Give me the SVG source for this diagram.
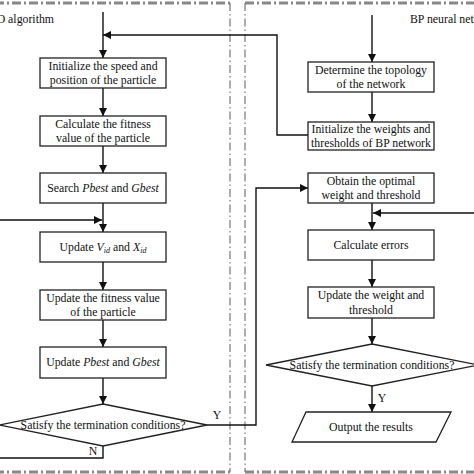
<svg xmlns="http://www.w3.org/2000/svg" width="474" height="474" viewBox="0 0 474 474">
<defs>
<marker id="ah" viewBox="0 0 10 10" refX="10" refY="5" markerWidth="8" markerHeight="8" markerUnits="userSpaceOnUse" orient="auto"><path d="M0,0 L10,5 L0,10 z" fill="#111"/></marker>
<style>
.box{fill:#fff;stroke:#222;stroke-width:1.3}
.t{font-family:"Liberation Serif","Times New Roman",serif;font-size:11.8px;fill:#111;text-anchor:middle}
.c{fill:none;stroke:#111;stroke-width:1.4}
.a{marker-end:url(#ah)}
.pt{fill:none;stroke:#888;stroke-width:3;stroke-dasharray:9 3 2 3}
.pv{fill:none;stroke:#777;stroke-width:1.2;stroke-dasharray:8 3 1.5 3}
</style>
</defs>
<rect width="474" height="474" fill="#fff"/>
<g id="panels">
<path class="pt" d="M-5,3 H230"/>
<path class="pt" d="M245,3 H480"/>
<path class="pt" d="M-5,472 H230"/>
<path class="pt" d="M245,472 H480"/>
<path class="pv" d="M230,3 V472"/>
<path class="pv" d="M245,3 V472"/>
<text class="t" x="54" y="23" style="text-anchor:end">PSO algorithm</text>
<text class="t" x="410" y="23" style="text-anchor:start">BP neural network</text>
</g>
<g id="connectors">
<path class="c a" d="M103,12 V58"/>
<path class="c a" d="M308,135 H277 V35 H103"/>
<path class="c a" d="M103,88 V116"/>
<path class="c a" d="M103,146 V173"/>
<path class="c a" d="M103,203 V232"/>
<path class="c a" d="M-5,220 H102"/>
<path class="c a" d="M103,262 V290"/>
<path class="c a" d="M103,320 V347"/>
<path class="c a" d="M103,378 V404"/>
<path class="c" d="M103,446 V458 H-5"/>
<path class="c a" d="M207,425 H256 V188 H308"/>
<path class="c a" d="M372,15 V62"/>
<path class="c a" d="M372,92 V122"/>
<path class="c a" d="M372,203 V230"/>
<path class="c a" d="M480,213 H373"/>
<path class="c a" d="M372,260 V287"/>
<path class="c a" d="M372,318 V344"/>
<path class="c a" d="M372,386 V412"/>
<text class="t" x="217" y="419">Y</text>
<text class="t" x="93" y="455">N</text>
<text class="t" x="382" y="402">Y</text>
</g>
<g id="init-particle"><rect class="box" x="40" y="58" width="126" height="30"/><text class="t" x="103" y="70">Initialize the speed and</text><text class="t" x="103" y="84">position of the particle</text></g>
<g id="calc-fitness"><rect class="box" x="40" y="116" width="126" height="30"/><text class="t" x="103" y="128">Calculate the fitness</text><text class="t" x="103" y="142">value of the particle</text></g>
<g id="search"><rect class="box" x="40" y="173" width="126" height="30"/><text class="t" x="103" y="192">Search <tspan font-style="italic">Pbest</tspan> and <tspan font-style="italic">Gbest</tspan></text></g>
<g id="update-vx"><rect class="box" x="40" y="232" width="126" height="30"/><text class="t" x="103" y="251">Update <tspan font-style="italic">V</tspan><tspan font-style="italic" font-size="8" dy="2">id</tspan><tspan dy="-2"> and </tspan><tspan font-style="italic">X</tspan><tspan font-style="italic" font-size="8" dy="2">id</tspan></text></g>
<g id="update-fitness"><rect class="box" x="40" y="290" width="126" height="30"/><text class="t" x="103" y="302">Update the fitness value</text><text class="t" x="103" y="316">of the particle</text></g>
<g id="update-pbest"><rect class="box" x="40" y="347" width="126" height="31"/><text class="t" x="103" y="366">Update <tspan font-style="italic">Pbest</tspan> and <tspan font-style="italic">Gbest</tspan></text></g>
<g id="pso-decision"><path class="box" d="M103,404 L207,425 L103,446 L-1,425 z"/><text class="t" x="103" y="429">Satisfy the termination conditions?</text></g>
<g id="topology"><rect class="box" x="308" y="62" width="126" height="30"/><text class="t" x="371" y="74">Determine the topology</text><text class="t" x="371" y="88">of the network</text></g>
<g id="init-weights"><rect class="box" x="308" y="122" width="126" height="28"/><text class="t" x="371" y="133">Initialize the weights and</text><text class="t" x="371" y="147">thresholds of BP network</text></g>
<g id="obtain"><rect class="box" x="308" y="173" width="126" height="30"/><text class="t" x="371" y="185">Obtain the optimal</text><text class="t" x="371" y="199">weight and threshold</text></g>
<g id="calc-errors"><rect class="box" x="308" y="230" width="126" height="30"/><text class="t" x="371" y="249">Calculate errors</text></g>
<g id="update-weight"><rect class="box" x="308" y="287" width="126" height="31"/><text class="t" x="371" y="299">Update the weight and</text><text class="t" x="371" y="314">threshold</text></g>
<g id="bp-decision"><path class="box" d="M372,344 L478,365 L372,386 L266,365 z"/><text class="t" x="372" y="369">Satisfy the termination conditions?</text></g>
<g id="output"><path class="box" d="M306,412 L451,412 L436,442 L292,442 z"/><text class="t" x="371" y="431">Output the results</text></g>
</svg>
